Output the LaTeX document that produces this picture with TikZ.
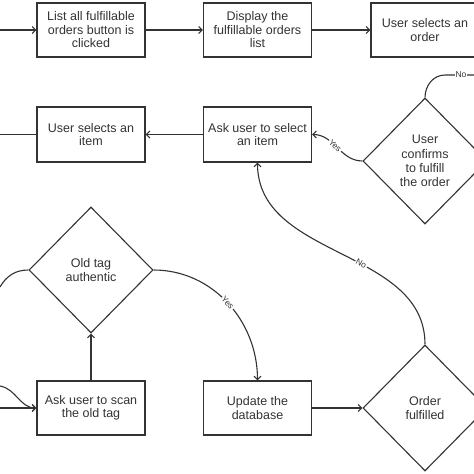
\documentclass[tikz,border=0pt]{standalone}
\usepackage{fontspec}
\setmainfont{Liberation Sans}
\usetikzlibrary{arrows.meta,shapes.geometric}
\definecolor{ln}{HTML}{333333}
\begin{document}
\begin{tikzpicture}[x=1pt,y=-1pt,
  every node/.style={text=ln},
  box/.style={draw=ln,line width=1.1pt,minimum width=108pt,minimum height=54pt,inner sep=0pt,align=center,font=\fontsize{12.5}{13.5}\selectfont},
  dec/.style={draw=ln,line width=1.1pt,diamond,minimum width=124pt,minimum height=126pt,inner sep=0pt,align=center,font=\fontsize{12.5}{14.3}\selectfont},
  conn/.style={draw=ln,line width=1.1pt},
  arr/.style={conn,-{Straight Barb[length=3.5pt,width=7pt]}},
  lbl/.style={fill=white,inner sep=1pt,font=\fontsize{8.5}{9}\selectfont,sloped}]
\clip (0,0) rectangle (474,474);
\fill[white] (0,0) rectangle (474,474);
% nodes
\node[box] (list) at (91,30) {List all fulfillable\\orders button is\\clicked};
\node[box] (disp) at (257.5,30) {Display the\\fulfillable orders\\list};
\node[box] (selo) at (425,30) {User selects an\\order};
\node[box,minimum height=55pt] (seli) at (91,134.5) {User selects an\\item};
\node[box,minimum height=55pt] (ask) at (257.5,134.5) {Ask user to select\\an item};
\node[dec] (conf) at (425,161) {User\\confirms\\to fulfill\\the order};
\node[dec] (old) at (91,270) {Old tag\\authentic};
\node[box] (scan) at (91,408) {Ask user to scan\\the old tag};
\node[box] (upd) at (257.5,408) {Update the\\database};
\node[dec] (ful) at (425,408) {Order\\fulfilled};
% free ends
\coordinate (in1) at (0,30);
\coordinate (out1) at (0,134.5);
\coordinate (c1) at (445,75);
\coordinate (out2) at (474,75);
\coordinate (out3) at (0,287);
\coordinate (in2) at (0,408);
\coordinate (in3) at (0,386);
% connectors
\draw[arr] (in1) -- (list.west);
\draw[arr] (list.east) -- (disp.west);
\draw[arr] (disp.east) -- (selo.west);
\draw[conn] (conf.north) to[out=90,in=180] (c1) -- node[lbl,pos=0.55]{No} (out2);
\draw[arr] (conf.west) to[out=180,in=0] node[lbl,pos=0.55]{Yes} (ask.east);
\draw[arr] (ask.west) -- (seli.east);
\draw[conn] (seli.west) -- (out1);
\draw[arr] (ful.north) to[out=90,in=-90] node[lbl,pos=0.42]{No} (ask.south);
\draw[arr] (old.east) to[out=0,in=90] node[lbl,pos=0.5]{Yes} (upd.north);
\draw[conn] (old.west) to[out=180,in=60] (out3);
\draw[arr] (in2) -- (scan.west);
\draw[arr] (in3) to[out=-10,in=180] (scan.west);
\draw[arr] (scan.north) -- (old.south);
\draw[arr] (upd.east) -- (ful.west);
\end{tikzpicture}
\end{document}
